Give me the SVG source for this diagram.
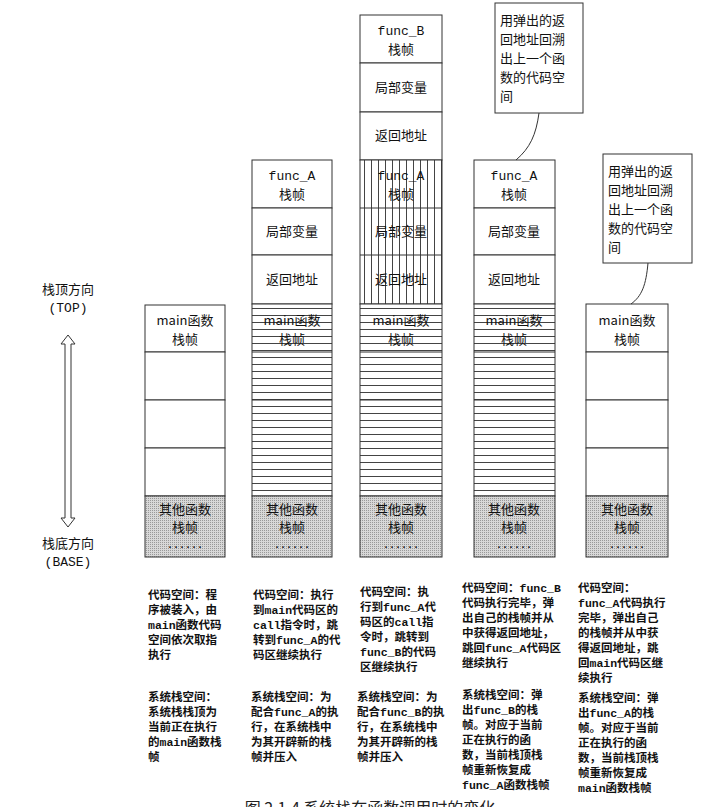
<svg xmlns="http://www.w3.org/2000/svg" width="716" height="807" viewBox="0 0 716 807">
<style>
.c{fill:#fff;stroke:#333;stroke-width:1}
.t{font-family:"Noto Sans CJK SC","Liberation Serif",serif;font-size:13px;fill:#111;text-anchor:middle}
.s{text-anchor:start}
.d{font-family:"Liberation Mono",monospace;font-size:10px;font-weight:bold;fill:#111;text-anchor:middle}
.m{font-family:"Liberation Mono","Noto Sans CJK SC",monospace;font-size:13px;fill:#111;text-anchor:middle}
.b{font-family:"Liberation Mono","Noto Sans CJK SC",monospace;font-size:11.5px;font-weight:bold;fill:#111}
.g{fill:url(#gray);stroke:#333}
.h{fill:url(#hz);stroke:#333}
.v{fill:url(#vt);stroke:#333}
.ln{fill:none;stroke:#333;stroke-width:1}
</style>
<defs>
<pattern id="gray" width="2" height="2" patternUnits="userSpaceOnUse"><rect width="2" height="2" fill="#d8d8d8"/><rect width="1" height="1" fill="#999"/></pattern>
<pattern id="hz" width="10" height="7" patternUnits="userSpaceOnUse"><rect width="10" height="7" fill="#fff"/><line x1="0" y1="0.5" x2="10" y2="0.5" stroke="#444" stroke-width="1"/></pattern>
<pattern id="vt" width="7" height="10" patternUnits="userSpaceOnUse"><rect width="7" height="10" fill="#fff"/><line x1="0.5" y1="0" x2="0.5" y2="10" stroke="#444" stroke-width="1"/></pattern>
</defs>
<g id="axis">
<text class="t" x="68" y="294">栈顶方向</text>
<text class="m" x="68" y="312">(TOP)</text>
<path d="M68,335 L75,344 L71,344 L71,518 L75,518 L68,527 L61,518 L65,518 L65,344 L61,344 Z" fill="#fff" stroke="#333"/>
<text class="t" x="68" y="548">栈底方向</text>
<text class="m" x="68" y="566">(BASE)</text>
</g>
<g id="col1">
<rect class="c" x="145" y="305" width="80" height="47"/>
<rect class="c" x="145" y="352" width="80" height="48"/>
<rect class="c" x="145" y="400" width="80" height="48"/>
<rect class="c" x="145" y="448" width="80" height="48"/>
<rect class="g" x="145" y="496" width="80" height="61"/>
<text class="t" x="185" y="325">main函数</text><text class="t" x="185" y="344">栈帧</text>
<text class="t" x="185" y="514">其他函数</text><text class="t" x="185" y="532">栈帧</text><text class="d" x="185" y="550">······</text>
</g>
<g id="col2">
<rect class="c" x="252" y="160" width="80" height="48"/>
<rect class="c" x="252" y="208" width="80" height="47"/>
<rect class="c" x="252" y="255" width="80" height="49"/>
<rect class="h" x="252" y="304" width="80" height="192"/>
<line class="ln" x1="252" y1="352" x2="332" y2="352"/><line class="ln" x1="252" y1="400" x2="332" y2="400"/>
<rect class="g" x="252" y="496" width="80" height="61"/>
<text class="m" x="292" y="180">func_A</text><text class="t" x="292" y="199">栈帧</text>
<text class="t" x="292" y="236">局部变量</text><text class="t" x="292" y="284">返回地址</text>
<text class="t" x="292" y="325">main函数</text><text class="t" x="292" y="344">栈帧</text>
<text class="t" x="292" y="514">其他函数</text><text class="t" x="292" y="532">栈帧</text><text class="d" x="292" y="550">······</text>
</g>
<g id="col3">
<rect class="c" x="360" y="15" width="82" height="48"/>
<rect class="c" x="360" y="63" width="82" height="49"/>
<rect class="c" x="360" y="112" width="82" height="48"/>
<rect class="v" x="360" y="160" width="82" height="144"/>
<line class="ln" x1="360" y1="208" x2="442" y2="208"/><line class="ln" x1="360" y1="255" x2="442" y2="255"/>
<rect class="h" x="360" y="304" width="82" height="192"/>
<line class="ln" x1="360" y1="352" x2="442" y2="352"/><line class="ln" x1="360" y1="400" x2="442" y2="400"/>
<rect class="g" x="360" y="496" width="82" height="61"/>
<text class="m" x="401" y="35">func_B</text><text class="t" x="401" y="54">栈帧</text>
<text class="t" x="401" y="92">局部变量</text><text class="t" x="401" y="140">返回地址</text>
<text class="m" x="401" y="180">func_A</text><text class="t" x="401" y="199">栈帧</text>
<text class="t" x="401" y="236">局部变量</text><text class="t" x="401" y="284">返回地址</text>
<text class="t" x="401" y="325">main函数</text><text class="t" x="401" y="344">栈帧</text>
<text class="t" x="401" y="514">其他函数</text><text class="t" x="401" y="532">栈帧</text><text class="d" x="401" y="550">······</text>
</g>
<g id="col4">
<rect class="c" x="474" y="160" width="81" height="48"/>
<rect class="c" x="474" y="208" width="81" height="47"/>
<rect class="c" x="474" y="255" width="81" height="49"/>
<rect class="h" x="474" y="304" width="81" height="192"/>
<line class="ln" x1="474" y1="352" x2="555" y2="352"/><line class="ln" x1="474" y1="400" x2="555" y2="400"/>
<rect class="g" x="474" y="496" width="81" height="61"/>
<text class="m" x="514" y="180">func_A</text><text class="t" x="514" y="199">栈帧</text>
<text class="t" x="514" y="236">局部变量</text><text class="t" x="514" y="284">返回地址</text>
<text class="t" x="514" y="325">main函数</text><text class="t" x="514" y="344">栈帧</text>
<text class="t" x="514" y="514">其他函数</text><text class="t" x="514" y="532">栈帧</text><text class="d" x="514" y="550">······</text>
</g>
<g id="col5">
<rect class="c" x="586" y="304" width="82" height="48"/>
<rect class="c" x="586" y="352" width="82" height="48"/>
<rect class="c" x="586" y="400" width="82" height="48"/>
<rect class="c" x="586" y="448" width="82" height="48"/>
<rect class="g" x="586" y="496" width="82" height="61"/>
<text class="t" x="627" y="325">main函数</text><text class="t" x="627" y="344">栈帧</text>
<text class="t" x="627" y="514">其他函数</text><text class="t" x="627" y="532">栈帧</text><text class="d" x="627" y="550">······</text>
</g>
<g id="callout1">
<rect class="c" x="495" y="3" width="88" height="110"/>
<text class="t s" x="500" y="25">用弹出的返</text>
<text class="t s" x="500" y="44">回地址回溯</text>
<text class="t s" x="500" y="63">出上一个函</text>
<text class="t s" x="500" y="82">数的代码空</text>
<text class="t s" x="500" y="101">间</text>
</g>
<g id="callout2">
<rect class="c" x="603" y="154" width="89" height="109"/>
<text class="t s" x="608" y="176">用弹出的返</text>
<text class="t s" x="608" y="195">回地址回溯</text>
<text class="t s" x="608" y="214">出上一个函</text>
<text class="t s" x="608" y="233">数的代码空</text>
<text class="t s" x="608" y="252">间</text>
</g>
<g id="connectors">
<path class="ln" d="M539,113 C536,135 530,148 516,160"/>
<path class="ln" d="M648,263 C646,285 642,296 631,304"/>
</g>
<g id="notes" class="b">
<text x="148" y="599">代码空间：程</text><text x="148" y="614">序被装入，由</text><text x="148" y="629">main函数代码</text><text x="148" y="644">空间依次取指</text><text x="148" y="659">执行</text>
<text x="148" y="701">系统栈空间：</text><text x="148" y="716">系统栈栈顶为</text><text x="148" y="731">当前正在执行</text><text x="148" y="746">的main函数栈</text><text x="148" y="761">帧</text>
<text x="253" y="599">代码空间：执行</text><text x="253" y="614">到main代码区的</text><text x="253" y="629">call指令时，跳</text><text x="253" y="644">转到func_A的代</text><text x="253" y="659">码区继续执行</text>
<text x="251" y="701">系统栈空间：为</text><text x="251" y="716">配合func_A的执</text><text x="251" y="731">行，在系统栈中</text><text x="251" y="746">为其开辟新的栈</text><text x="251" y="761">帧并压入</text>
<text x="360" y="596">代码空间：执</text><text x="360" y="611">行到func_A代</text><text x="360" y="626">码区的call指</text><text x="360" y="641">令时，跳转到</text><text x="360" y="656">func_B的代码</text><text x="360" y="671">区继续执行</text>
<text x="357" y="701">系统栈空间：为</text><text x="357" y="716">配合func_B的执</text><text x="357" y="731">行，在系统栈中</text><text x="357" y="746">为其开辟新的栈</text><text x="357" y="761">帧并压入</text>
<text x="462" y="592">代码空间：func_B</text><text x="462" y="607">代码执行完毕，弹</text><text x="462" y="622">出自己的栈帧并从</text><text x="462" y="637">中获得返回地址，</text><text x="462" y="652">跳回func_A代码区</text><text x="462" y="667">继续执行</text>
<text x="462" y="699">系统栈空间：弹</text><text x="462" y="714">出func_B的栈</text><text x="462" y="729">帧。对应于当前</text><text x="462" y="744">正在执行的函</text><text x="462" y="759">数，当前栈顶栈</text><text x="462" y="774">帧重新恢复成</text><text x="462" y="789">func_A函数栈帧</text>
<text x="578" y="592">代码空间：</text><text x="578" y="607">func_A代码执行</text><text x="578" y="622">完毕，弹出自己</text><text x="578" y="637">的栈帧并从中获</text><text x="578" y="652">得返回地址，跳</text><text x="578" y="667">回main代码区继</text><text x="578" y="682">续执行</text>
<text x="578" y="702">系统栈空间：弹</text><text x="578" y="717">出func_A的栈</text><text x="578" y="732">帧。对应于当前</text><text x="578" y="747">正在执行的函</text><text x="578" y="762">数，当前栈顶栈</text><text x="578" y="777">帧重新恢复成</text><text x="578" y="792">main函数栈帧</text>
</g>
<text x="370" y="814" style="font-family:'Noto Sans CJK SC',serif;font-size:16px;fill:#222;text-anchor:middle">图 2.1.4  系统栈在函数调用时的变化</text>
</svg>
